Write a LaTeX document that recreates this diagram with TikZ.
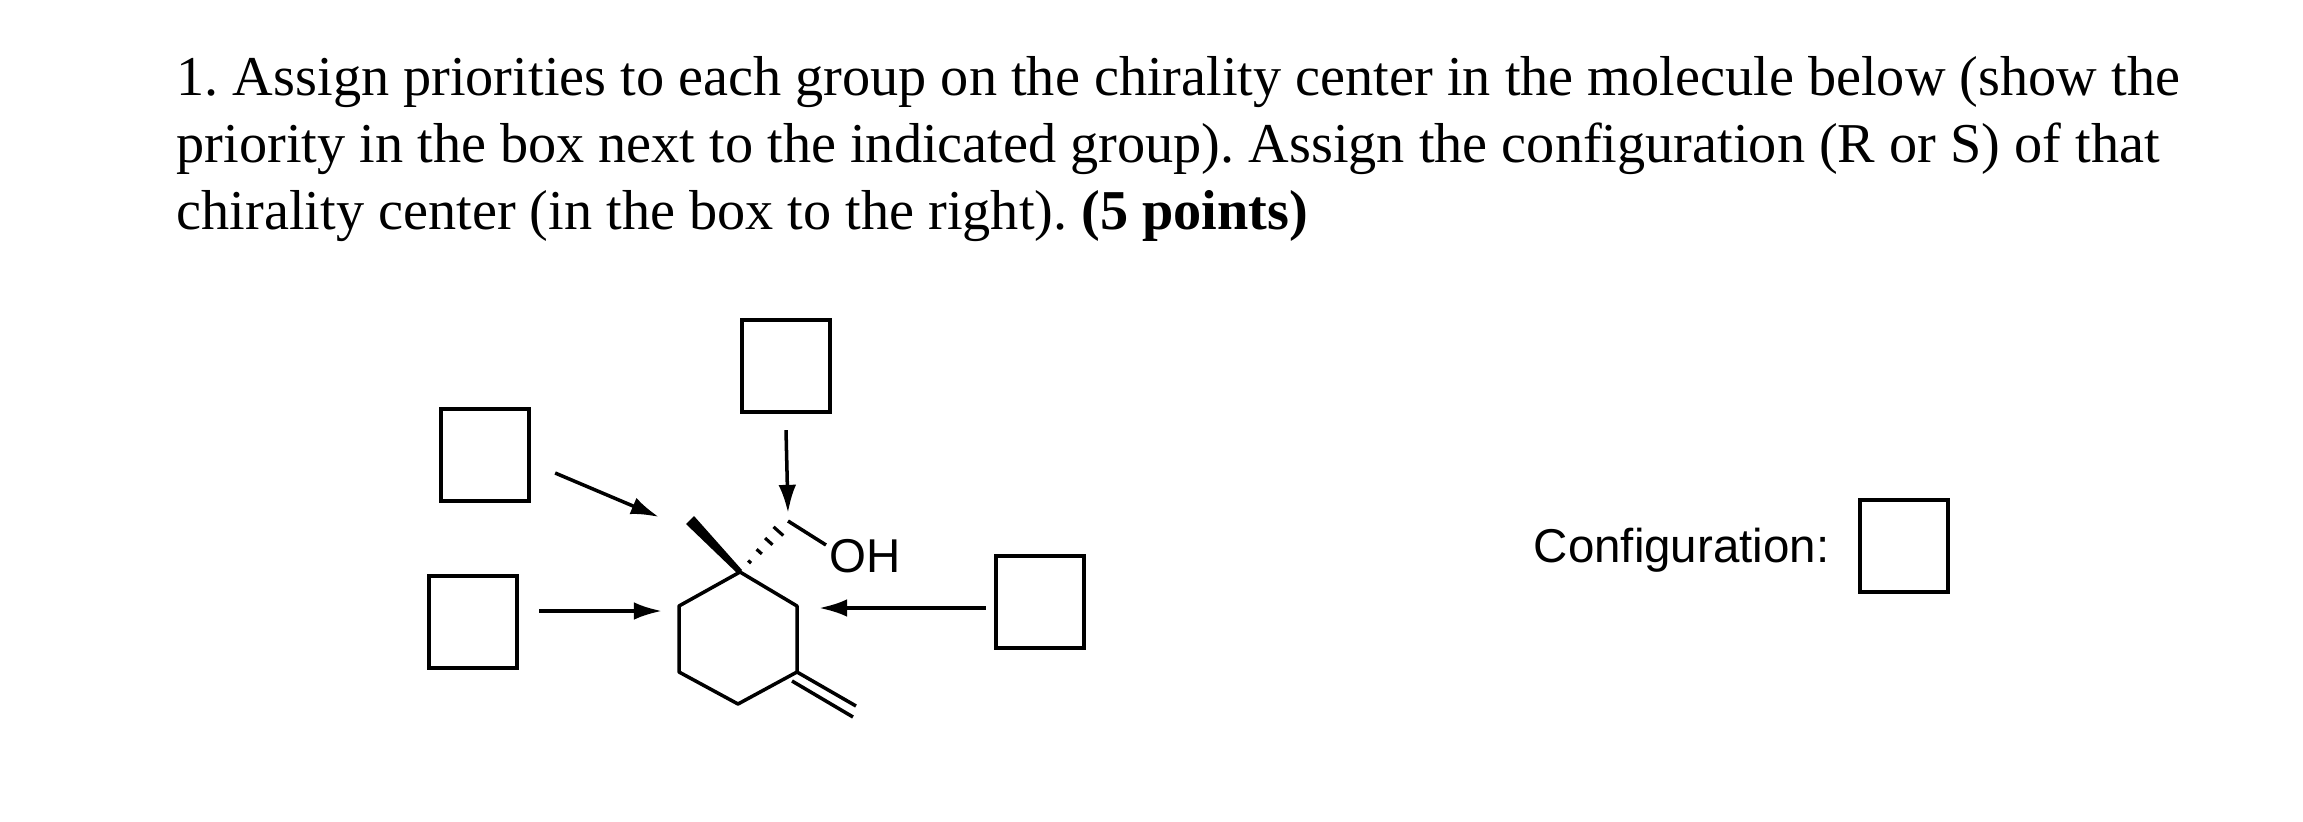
\documentclass[tikz,border=0pt]{standalone}
\usepackage{fontspec}
\setmainfont{Liberation Serif}
\newfontfamily\arial{Liberation Sans}
\usetikzlibrary{arrows.meta,calc}
\begin{document}
\begin{tikzpicture}[x=0.01cm,y=-0.01cm,
  ansbox/.style={draw,line width=1.2pt,minimum width=0.88cm,minimum height=0.92cm,inner sep=0pt},
  ptr/.style={line width=1pt,-{Latex[length=8pt,width=5pt]}},
  bond/.style={line width=1pt},
  txt/.style={anchor=base west,inner sep=0pt,font=\fontsize{16}{19}\selectfont\frenchspacing}]
\useasboundingbox (0,0) rectangle (2303,821);
\node[txt] (l1) at (176,95) {1. Assign priorities to each group on the chirality center in the molecule below (show the};
\node[txt] (l2) at (176,162) {priority in the box next to the indicated group). Assign the configuration (R or S) of that};
\node[txt] (l3) at (176,229) {chirality center (in the box to the right). \textbf{(5 points)}};
% boxes
\node[ansbox] (bt) at (786,366) {};
\node[ansbox] (blt) at (485,455) {};
\node[ansbox] (blb) at (473,622) {};
\node[ansbox] (br) at (1040,602) {};
\node[ansbox] (bc) at (1904,546) {};
\node[anchor=east,inner sep=0pt,font=\arial\fontsize{13.5}{16}\selectfont] (cfg) at (1830,550) {Configuration:};
% ring
\coordinate (C) at (740,572);
\coordinate (r2) at (797,606);
\coordinate (r3) at (797,672);
\coordinate (r4) at (738,704);
\coordinate (r5) at (679,672);
\coordinate (r6) at (679,606);
\draw[bond,line join=round] (C) -- (r2) -- (r3) -- (r4) -- (r5) -- (r6) -- cycle;
\coordinate (ex) at (856,706);
\draw[bond] (r3) -- (ex);
\draw[bond] ($(r3)+(-5,9)$) -- ($(ex)+(-3,11)$);
% wedge
\coordinate (w) at (690,520);
\fill ($(C)+(-2,2)$) -- ($(C)+(2,-2)$) -- ($(w)+(4,-4)$) -- ($(w)+(-4,4)$) -- cycle;
% hash
\coordinate (h) at (788,521);
\foreach \t/\s in {0.2/2,0.4/3.5,0.6/5,0.8/6.5}{
  \draw[line width=0.9pt] ($(C)!\t!(h)+(-\s*0.75,-\s*0.67)$) -- ($(C)!\t!(h)+(\s*0.75,\s*0.67)$);
}
\coordinate (o) at (826,545);
\draw[bond] (h) -- (o);
\node[anchor=west,inner sep=0pt,font=\arial\fontsize{13.5}{16}\selectfont] (oh) at (829,556) {OH};
% arrows
\draw[ptr] (bt.south) ++(0,16) coordinate (a1) -- (788,513) coordinate (a1e);
\draw[ptr] (blt.east) ++(24,18) coordinate (a2) -- (659,517);
\draw[ptr] (blb.east) ++(20,-11) -- (662,611);
\draw[ptr] (br.west) ++(-8,6) -- (819,608);
\end{tikzpicture}
\end{document}
